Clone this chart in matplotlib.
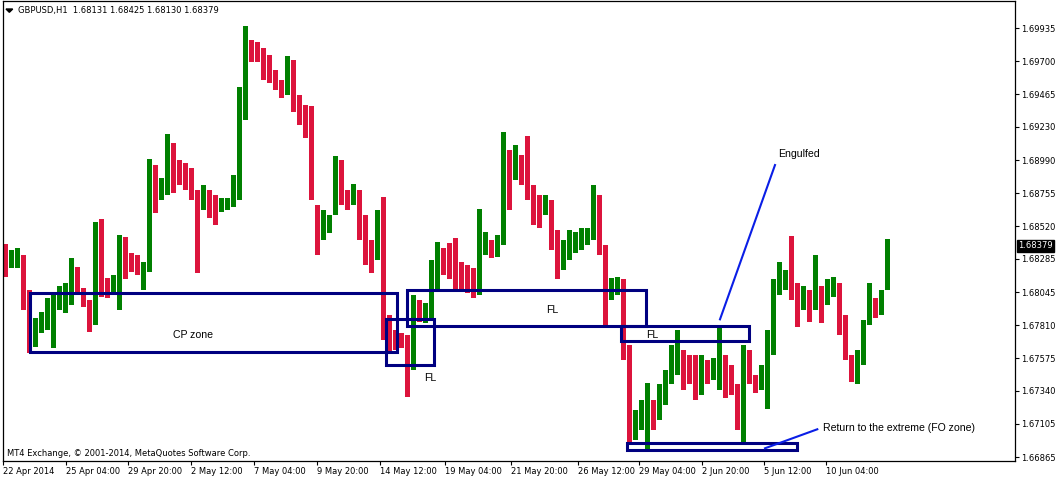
import numpy as np
import matplotlib
matplotlib.use("Agg")
import matplotlib.pyplot as plt
from matplotlib.patches import Rectangle, Polygon

# GBPUSD H1, grouped into 6-hour buckets (high / low / close)
highs = [
    1.68392, 1.68349, 1.68363, 1.68313, 1.68063, 1.67862, 1.67905, 1.68005, 1.68041, 1.68094,
    1.68113, 1.68292, 1.68227, 1.68077, 1.67991, 1.68549, 1.68571, 1.68149, 1.68171, 1.68456,
    1.68442, 1.68327, 1.68313, 1.68263, 1.69000, 1.68957, 1.68864, 1.69179, 1.69115, 1.68993,
    1.68972, 1.68936, 1.68778, 1.68814, 1.68778, 1.68742, 1.68721, 1.68721, 1.68886, 1.69515,
    1.69952, 1.69852, 1.69837, 1.69794, 1.69744, 1.69637, 1.69566, 1.69737, 1.69709, 1.69458,
    1.69387, 1.69380, 1.68671, 1.68635, 1.68599, 1.69022, 1.68993, 1.68778, 1.68821, 1.68778,
    1.68599, 1.68421, 1.68635, 1.68728, 1.67884, 1.67776, 1.67755, 1.67741, 1.68027, 1.67991,
    1.67970, 1.68277, 1.68406, 1.68363, 1.68399, 1.68435, 1.68263, 1.68242, 1.68220, 1.68642,
    1.68478, 1.68421, 1.68456, 1.69193, 1.69065, 1.69100, 1.69029, 1.69165, 1.68814, 1.68742,
    1.68742, 1.68707, 1.68492, 1.68421, 1.68492, 1.68478, 1.68506, 1.68506, 1.68814, 1.68742,
    1.68385, 1.68149, 1.68156, 1.68138, 1.67669, 1.67204, 1.67276, 1.67397, 1.67276, 1.67387,
    1.67490, 1.67669, 1.67776, 1.67634, 1.67598, 1.67598, 1.67598, 1.67562, 1.67576, 1.67812,
    1.67598, 1.67526, 1.67387, 1.67669, 1.67634, 1.67455, 1.67526, 1.67776, 1.68138, 1.68263,
    1.68207, 1.68449, 1.68113, 1.68094, 1.68063, 1.68313, 1.68094, 1.68138, 1.68156, 1.68113,
    1.67884, 1.67598, 1.67634, 1.67848, 1.68113, 1.68005, 1.68063, 1.68425,
]
lows = [
    1.68156, 1.68220, 1.68220, 1.67920, 1.67612, 1.67655, 1.67755, 1.67776, 1.67648, 1.67920,
    1.67898, 1.67954, 1.68027, 1.67941, 1.67762, 1.67812, 1.68013, 1.68005, 1.68046, 1.67920,
    1.68138, 1.68192, 1.68171, 1.68063, 1.68192, 1.68614, 1.68707, 1.68742, 1.68757, 1.68814,
    1.68778, 1.68707, 1.68185, 1.68635, 1.68578, 1.68528, 1.68621, 1.68635, 1.68657, 1.68707,
    1.69279, 1.69694, 1.69694, 1.69566, 1.69544, 1.69494, 1.69437, 1.69458, 1.69336, 1.69244,
    1.69151, 1.68707, 1.68313, 1.68421, 1.68471, 1.68599, 1.68671, 1.68635, 1.68671, 1.68421,
    1.68242, 1.68185, 1.68277, 1.67705, 1.67612, 1.67634, 1.67648, 1.67297, 1.67490, 1.67834,
    1.67827, 1.67848, 1.68063, 1.68171, 1.68138, 1.68046, 1.68063, 1.68041, 1.68005, 1.68027,
    1.68313, 1.68292, 1.68299, 1.68385, 1.68635, 1.68850, 1.68814, 1.68707, 1.68528, 1.68506,
    1.68599, 1.68349, 1.68138, 1.68207, 1.68277, 1.68327, 1.68349, 1.68385, 1.68421, 1.68313,
    1.67812, 1.67991, 1.68027, 1.67562, 1.66967, 1.66989, 1.67061, 1.66916, 1.67061, 1.67132,
    1.67240, 1.67387, 1.67455, 1.67347, 1.67387, 1.67276, 1.67311, 1.67387, 1.67419, 1.67347,
    1.67290, 1.67311, 1.67061, 1.66975, 1.67387, 1.67326, 1.67347, 1.67211, 1.67598, 1.68027,
    1.68063, 1.67991, 1.67798, 1.67920, 1.67834, 1.67920, 1.67827, 1.67954, 1.68013, 1.67741,
    1.67562, 1.67404, 1.67387, 1.67526, 1.67812, 1.67862, 1.67884, 1.68063,
]
closes = [
    1.68263, 1.68292, 1.68313, 1.67991, 1.67741, 1.67812, 1.67862, 1.67954, 1.67991, 1.68046,
    1.68063, 1.68138, 1.68046, 1.68005, 1.67862, 1.68478, 1.68138, 1.68094, 1.68138, 1.68349,
    1.68292, 1.68263, 1.68207, 1.68220, 1.68850, 1.68778, 1.68814, 1.69065, 1.68921, 1.68886,
    1.68864, 1.68742, 1.68707, 1.68742, 1.68671, 1.68635, 1.68664, 1.68671, 1.68850, 1.69422,
    1.69816, 1.69780, 1.69766, 1.69673, 1.69601, 1.69551, 1.69494, 1.69673, 1.69458, 1.69351,
    1.69294, 1.68778, 1.68528, 1.68549, 1.68564, 1.68921, 1.68742, 1.68707, 1.68742, 1.68528,
    1.68349, 1.68313, 1.68564, 1.67848, 1.67741, 1.67705, 1.67691, 1.67526, 1.67954, 1.67920,
    1.67920, 1.68171, 1.68277, 1.68263, 1.68242, 1.68207, 1.68171, 1.68138, 1.68113, 1.68349,
    1.68421, 1.68349, 1.68399, 1.68921, 1.68814, 1.68993, 1.68886, 1.68778, 1.68671, 1.68635,
    1.68685, 1.68456, 1.68313, 1.68313, 1.68385, 1.68421, 1.68435, 1.68449, 1.68742, 1.68385,
    1.67991, 1.68094, 1.68120, 1.67669, 1.67061, 1.67132, 1.67168, 1.67204, 1.67168, 1.67276,
    1.67419, 1.67562, 1.67598, 1.67526, 1.67490, 1.67455, 1.67490, 1.67455, 1.67472, 1.67562,
    1.67490, 1.67419, 1.67168, 1.67490, 1.67455, 1.67387, 1.67455, 1.67705, 1.67991, 1.68138,
    1.68149, 1.68094, 1.67991, 1.68027, 1.67954, 1.68094, 1.67954, 1.68063, 1.68094, 1.67848,
    1.67598, 1.67490, 1.67562, 1.67776, 1.67954, 1.67920, 1.68027, 1.68379,
]
first_open = 1.68300
bucket_hours = 6

# axis labels
price_ticks = [1.69935, 1.69700, 1.69465, 1.69230, 1.68990, 1.68755, 1.68520,
               1.68285, 1.68045, 1.67810, 1.67575, 1.67340, 1.67105, 1.66865]
time_ticks = [0, 63, 125, 188, 251, 314, 377, 442, 508, 575, 636, 699, 761, 823]
time_labels = ["22 Apr 2014", "25 Apr 04:00", "29 Apr 20:00", "2 May 12:00",
               "7 May 04:00", "9 May 20:00", "14 May 12:00", "19 May 04:00",
               "21 May 20:00", "26 May 12:00", "29 May 04:00", "2 Jun 20:00",
               "5 Jun 12:00", "10 Jun 04:00"]

# drawn zones: (start hour, end hour, top price, bottom price)
zone_starts = [27, 383, 404.3, 617.7, 623.7]
zone_ends = [393.7, 431.3, 643, 746.3, 793.7]
zone_tops = [1.68039, 1.67855, 1.68061, 1.67805, 1.66970]
zone_bottoms = [1.67617, 1.67526, 1.67805, 1.67700, 1.66918]

zone_texts = ["CP zone", "FL", "FL", "FL"]
zone_text_x = [190, 427, 549.5, 649.5]
zone_text_y = [1.67741, 1.67433, 1.67920, 1.67741]

# trend-line callouts
engulfed_x = [717, 772]
engulfed_y = [1.67853, 1.68957]
extreme_x = [762, 814.3]
extreme_y = [1.66930, 1.67066]

last_price = closes[-1]

W, H = 1058, 479
fig = plt.figure(figsize=(W / 100, H / 100), dpi=100)
fig.patch.set_facecolor("white")
ax = fig.add_axes([2.5 / W, (H - 461) / H, (1015 - 2.5) / W, 460 / H])

opens = [first_open] + closes[:-1]
x = np.arange(len(closes)) * bucket_hours + bucket_hours / 2 - 0.5
up = np.array(closes) >= np.array(opens)
colors = np.where(up, "#008000", "#DC143C")
# each bucket drawn as a high-low bar, coloured by direction
ax.bar(x, np.array(highs) - np.array(lows), bottom=lows, width=bucket_hours - 0.6,
       color=colors, linewidth=0)

for x0, x1, top, bot in zip(zone_starts, zone_ends, zone_tops, zone_bottoms):
    ax.add_patch(Rectangle((x0, bot), x1 - x0, top - bot, fill=False,
                           edgecolor="#000080", linewidth=2.2, zorder=3))

txt_font = ["Liberation Sans", "DejaVu Sans"]
for t, tx, ty in zip(zone_texts, zone_text_x, zone_text_y):
    ax.text(tx, ty, t, ha="center", va="center", fontsize=7.6,
            family=txt_font, color="black", zorder=4)

ax.plot(engulfed_x, engulfed_y, color="#0a1ee6", linewidth=1.5, zorder=4)
ax.plot(extreme_x, extreme_y, color="#0a1ee6", linewidth=1.5, zorder=4)
ax.text(775, 1.69036, "Engulfed", ha="left", va="center", fontsize=7.6,
        family=txt_font, color="black")
ax.text(820, 1.67075, "Return to the extreme (FO zone)", ha="left", va="center",
        fontsize=7.6, family=txt_font, color="black")

ax.set_xlim(-0.5, 1012)
ax.set_ylim(1.66839, 1.70131)

# price axis on the right like MT4
ax.yaxis.tick_right()
ax.set_yticks(price_ticks)
ax.set_yticklabels(["%.5f" % p for p in price_ticks])
ax.tick_params(axis="y", direction="out", length=3, width=0.8, pad=1.5,
               labelsize=6, colors="black")

ax.set_xticks(time_ticks)
ax.set_xticklabels(time_labels, ha="left")
ax.tick_params(axis="x", direction="out", length=3, width=0.8, pad=1.5,
               labelsize=6, colors="black")

for s in ax.spines.values():
    s.set_linewidth(0.9)
    s.set_color("black")

# last price box
ax.annotate("%.5f" % last_price, xy=(1.0, last_price),
            xycoords=("axes fraction", "data"), xytext=(2.5, 0),
            textcoords="offset points", ha="left", va="center", fontsize=6,
            color="white",
            bbox=dict(boxstyle="square,pad=0.15", facecolor="black", edgecolor="black"))

# header and copyright
fig.add_artist(Polygon([(6 / W, 1 - 9 / H), (12.7 / W, 1 - 9 / H), (9.35 / W, 1 - 12.3 / H)],
                       closed=True, facecolor="black", edgecolor="black",
                       transform=fig.transFigure))
fig.text(18 / W, 1 - 10.5 / H, "GBPUSD,H1  1.68131 1.68425 1.68130 1.68379",
         ha="left", va="center", fontsize=6, color="black")
fig.text(7 / W, 1 - 453.5 / H, "MT4 Exchange, \u00a9 2001-2014, MetaQuotes Software Corp.",
         ha="left", va="center", fontsize=6, color="black")

fig.savefig("out.png", dpi=100)
